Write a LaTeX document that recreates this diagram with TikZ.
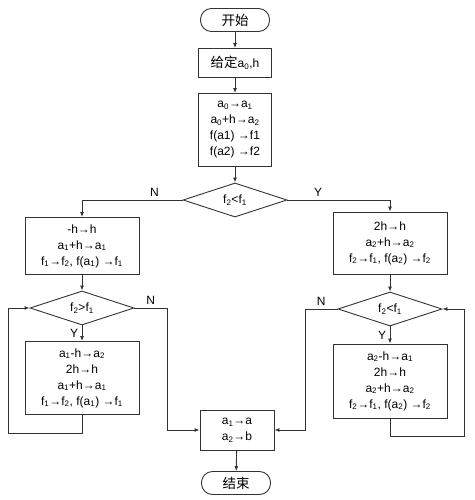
\documentclass[tikz,border=0pt]{standalone}
\usepackage{fontspec}
\setmainfont{Liberation Sans}
\newfontfamily\cjk{Noto Sans CJK SC}
\usetikzlibrary{shapes.geometric,arrows.meta}
\newcommand{\sub}[1]{\textsubscript{#1}}
\begin{document}
\begin{tikzpicture}[x=1pt, y=-1pt,
  every node/.style={font=\fontsize{12}{16}\selectfont, text=black},
  box/.style={draw=black!80, line width=0.9pt, rectangle, align=center, inner sep=2pt},
  term/.style={draw=black!80, line width=0.9pt, rounded corners=11pt, minimum width=69pt, minimum height=23pt},
  decision/.style={draw=black!80, line width=0.9pt, diamond, minimum width=104pt, minimum height=32pt, inner sep=0pt},
  line/.style={draw=black!80, line width=0.9pt, -{Latex[length=5pt,width=4pt]}},
  cjktext/.style={font=\fontsize{13.5}{16}\selectfont\cjk}]
\useasboundingbox (0,0) rectangle (474,500);
% main column
\node [term, cjktext] (start) at (235,20) {开始};
\node [box, minimum width=73pt, minimum height=29pt] (given) at (235,63) {{\fontsize{13.5}{16}\selectfont\cjk 给定}a\sub{0},h};
\node [box, minimum width=73pt, minimum height=73pt] (init) at (235,130)
  {a\sub{0}→a\sub{1}\\ a\sub{0}+h→a\sub{2}\\ f(a1) →f1\\ f(a2) →f2};
\node [decision] (cmp) at (235,200) {f\sub{2}<f\sub{1}};
% left branch
\node [box, minimum width=114pt, minimum height=57pt] (left) at (82,246)
  {-h→h\\ a\sub{1}+h→a\sub{1}\\ f\sub{1}→f\sub{2}, f(a\sub{1}) →f\sub{1}};
\node [decision] (ltest) at (82,308) {f\sub{2}>f\sub{1}};
\node [box, minimum width=114pt, minimum height=73pt] (lstep) at (82,378)
  {a\sub{1}-h→a\sub{2}\\ 2h→h\\ a\sub{1}+h→a\sub{1}\\ f\sub{1}→f\sub{2}, f(a\sub{1}) →f\sub{1}};
% right branch
\node [box, minimum width=114pt, minimum height=62pt] (right) at (390,243)
  {2h→h\\ a\sub{2}+h→a\sub{2}\\ f\sub{2}→f\sub{1}, f(a\sub{2}) →f\sub{2}};
\node [decision] (rtest) at (390,309) {f\sub{2}<f\sub{1}};
\node [box, minimum width=114pt, minimum height=74pt] (rstep) at (390,381)
  {a\sub{2}-h→a\sub{1}\\ 2h→h\\ a\sub{2}+h→a\sub{2}\\ f\sub{2}→f\sub{1}, f(a\sub{2}) →f\sub{2}};
% output and end
\node [box, minimum width=74pt, minimum height=40pt] (out) at (237,430) {a\sub{1}→a\\ a\sub{2}→b};
\node [term, cjktext] (stop) at (236,483) {结束};
% bend points
\coordinate (lbend) at (167,308);
\coordinate (rbend) at (305,309);
\coordinate (lloop) at (8,433);
\coordinate (rloop) at (464,436);
% connectors
\draw [line] (start) -- (given);
\draw [line] (given) -- (init);
\draw [line] (init) -- (cmp);
\draw [line] (cmp.west) -| node[pos=0.14, above]{N} (left.north);
\draw [line] (cmp.east) -| node[pos=0.15, above]{Y} (right.north);
\draw [line] (left) -- (ltest);
\draw [line] (ltest) -- node[left]{Y} (lstep);
\draw [line] (ltest.east) -- node[above]{N} (lbend) |- (out.west);
\draw [line] (lstep.south) |- (lloop) |- (ltest.west);
\draw [line] (right) -- (rtest);
\draw [line] (rtest) -- node[left]{Y} (rstep);
\draw [line] (rtest.west) -- node[above]{N} (rbend) |- (out.east);
\draw [line] (rstep.south) |- (rloop) |- (rtest.east);
\draw [line] (out) -- (stop);
\end{tikzpicture}
\end{document}
